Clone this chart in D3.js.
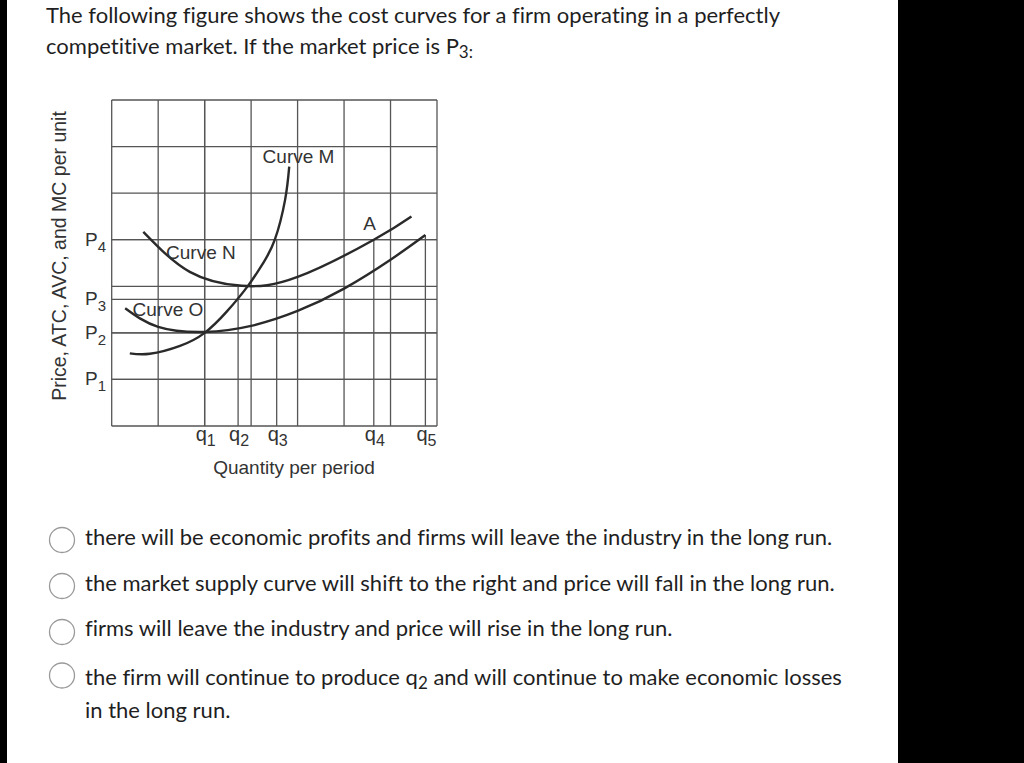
<!DOCTYPE html>
<html lang="en">
  <head>
    <meta charset="UTF-8">
    <title>Cost curves</title>
    <style>
      body { margin: 0; background: #fff; }
      text { font-variant-ligatures: none; }
    </style>
  </head>
  <body>
    <div id="chart"></div>
    <script src="https://d3js.org/d3.v7.min.js"></script>
    <script>
      // figure values, in grid squares (0..7 both ways)
      let gridX = [0, 1, 2, 3, 4, 5, 6, 7];
      let gridY = [0, 1, 2, 3, 4, 5, 6, 7];
      let qNames = ["1", "2", "3", "4", "5"];
      let qValues = [2, 2.72, 3.55, 5.64, 6.75];
      let qTops = [7, 3.02, 4, 4, 4.1];
      let pNames = ["1", "2", "3", "4"];
      let pValues = [1, 2, 2.72, 4];

      // Curve M (MC)
      let mcX = [0.39, 0.82, 1.47, 2.0, 2.47, 2.94, 3.26, 3.51, 3.73, 3.82];
      let mcY = [1.56, 1.55, 1.72, 2.0, 2.45, 3.02, 3.5, 4.0, 4.85, 5.57];
      // Curve N (ATC)
      let atcX = [0.68, 1.68, 2.8, 4.0, 5.64, 6.45];
      let atcY = [4.17, 3.31, 3.01, 3.2, 4.0, 4.5];
      // Curve O (AVC)
      let avcX = [0.29, 1.0, 2.0, 3.0, 4.0, 5.0, 6.0, 6.75];
      let avcY = [2.53, 2.13, 2.02, 2.15, 2.47, 2.95, 3.57, 4.1];

      let curveLabels = ["Curve M", "Curve N", "Curve O", "A"];
      let curveLabelX = [4.02, 1.92, 1.21, 5.55];
      let curveLabelY = [5.65, 3.58, 2.36, 4.21];

      let question = [
        [["The following figure shows the cost curves for a firm operating in a perfectly", false]],
        [["competitive market. If the market price is P", false], ["3:", true]]
      ];
      let options = [
        [[["there will be economic profits and firms will leave the industry in the long run.", false]]],
        [[["the market supply curve will shift to the right and price will fall in the long run.", false]]],
        [[["firms will leave the industry and price will rise in the long run.", false]]],
        [[["the firm will continue to produce q", false], ["2", true], [" and will continue to make economic losses", false]],
         [["in the long run.", false]]]
      ];

      let width = 1024;
      let height = 763;
      let svg = d3.select("#chart").append("svg").attr("width", width).attr("height", height);

      svg.append("rect").attr("x", 0).attr("y", 0).attr("width", 7).attr("height", height).attr("fill", "#000");
      svg.append("rect").attr("x", 898).attr("y", 0).attr("width", width - 898).attr("height", height).attr("fill", "#000");

      function richText(sel, x, y, parts, size, subSize, shift) {
        let t = sel.append("text").attr("x", x).attr("y", y).style("font-size", size + "px");
        let down = false;
        parts.forEach(function(p) {
          let s = t.append("tspan").text(p[0]);
          if (p[1] && !down) { s.attr("dy", shift).style("font-size", subSize + "px"); down = true; }
          else if (!p[1] && down) { s.attr("dy", -shift); down = false; }
        });
        return t;
      }

      // question text
      let q = svg.append("g").style("font-family", "Lato").attr("fill", "#1f1f1f");
      let qBase = [23, 54];
      question.forEach(function(line, i) { richText(q, 46, qBase[i], line, 22, 17, 4); });

      // chart
      let x = d3.scaleLinear().domain([0, 7]).range([111.7, 437]);
      let y = d3.scaleLinear().domain([0, 7]).range([426, 100]);
      let chart = svg.append("g");
      let ink = "#333";

      chart.selectAll(".vgrid").data(gridX).enter().append("line")
        .attr("x1", d => x(d)).attr("x2", d => x(d)).attr("y1", y(0)).attr("y2", y(7))
        .attr("stroke", "#555").attr("stroke-width", 1.3);
      chart.selectAll(".hgrid").data(gridY).enter().append("line")
        .attr("y1", d => y(d)).attr("y2", d => y(d)).attr("x1", x(0)).attr("x2", x(7))
        .attr("stroke", "#555").attr("stroke-width", 1.3);
      chart.selectAll(".pline").data(pValues).enter().append("line")
        .attr("y1", d => y(d)).attr("y2", d => y(d)).attr("x1", x(0)).attr("x2", x(7))
        .attr("stroke", "#555").attr("stroke-width", 1.3);
      chart.selectAll(".qline").data(qValues).enter().append("line")
        .attr("x1", d => x(d)).attr("x2", d => x(d)).attr("y1", y(0)).attr("y2", (d, i) => y(qTops[i]))
        .attr("stroke", "#555").attr("stroke-width", 1.3);

      let line = d3.line().x(d => x(d[0])).y(d => y(d[1])).curve(d3.curveNatural);
      [[mcX, mcY], [atcX, atcY], [avcX, avcY]].forEach(function(c) {
        chart.append("path").attr("d", line(d3.zip(c[0], c[1])))
          .attr("fill", "none").attr("stroke", "#2a2a2a").attr("stroke-width", 2.4);
      });

      let lab = chart.append("g").style("font-family", "Liberation Sans, Arial").attr("fill", ink);
      lab.selectAll(".cl").data(curveLabels).enter().append("text")
        .attr("x", (d, i) => x(curveLabelX[i])).attr("y", (d, i) => y(curveLabelY[i]))
        .attr("text-anchor", "middle").style("font-size", "19px").text(d => d);

      pValues.forEach(function(v, i) {
        richText(lab, 85, y(v) + 6, [["P", false], [pNames[i], true]], 19, 15, 6);
      });
      qValues.forEach(function(v, i) {
        richText(lab, x(v) - 9, 441, [["q", false], [qNames[i], true]], 20, 16, 5);
      });

      lab.append("text").attr("x", 294).attr("y", 474).attr("text-anchor", "middle")
        .style("font-size", "19px").text("Quantity per period");
      lab.append("text").attr("transform", "translate(66,256) rotate(-90)").attr("text-anchor", "middle")
        .style("font-size", "19.5px").text("Price, ATC, AVC, and MC per unit");

      // answer options
      let circY = [540, 586, 632, 675.5];
      let optBase = [[545], [591], [636], [685, 718]];
      let opt = svg.append("g").style("font-family", "Lato").attr("fill", "#1f1f1f");
      options.forEach(function(o, i) {
        opt.append("circle").attr("cx", 62).attr("cy", circY[i]).attr("r", 12.5)
          .attr("fill", "#fff").attr("stroke", "#9a9a9a").attr("stroke-width", 1.3);
        o.forEach(function(l, j) { richText(opt, 85, optBase[i][j], l, 22, 17, 4); });
      });
    </script>
  </body>
</html>
